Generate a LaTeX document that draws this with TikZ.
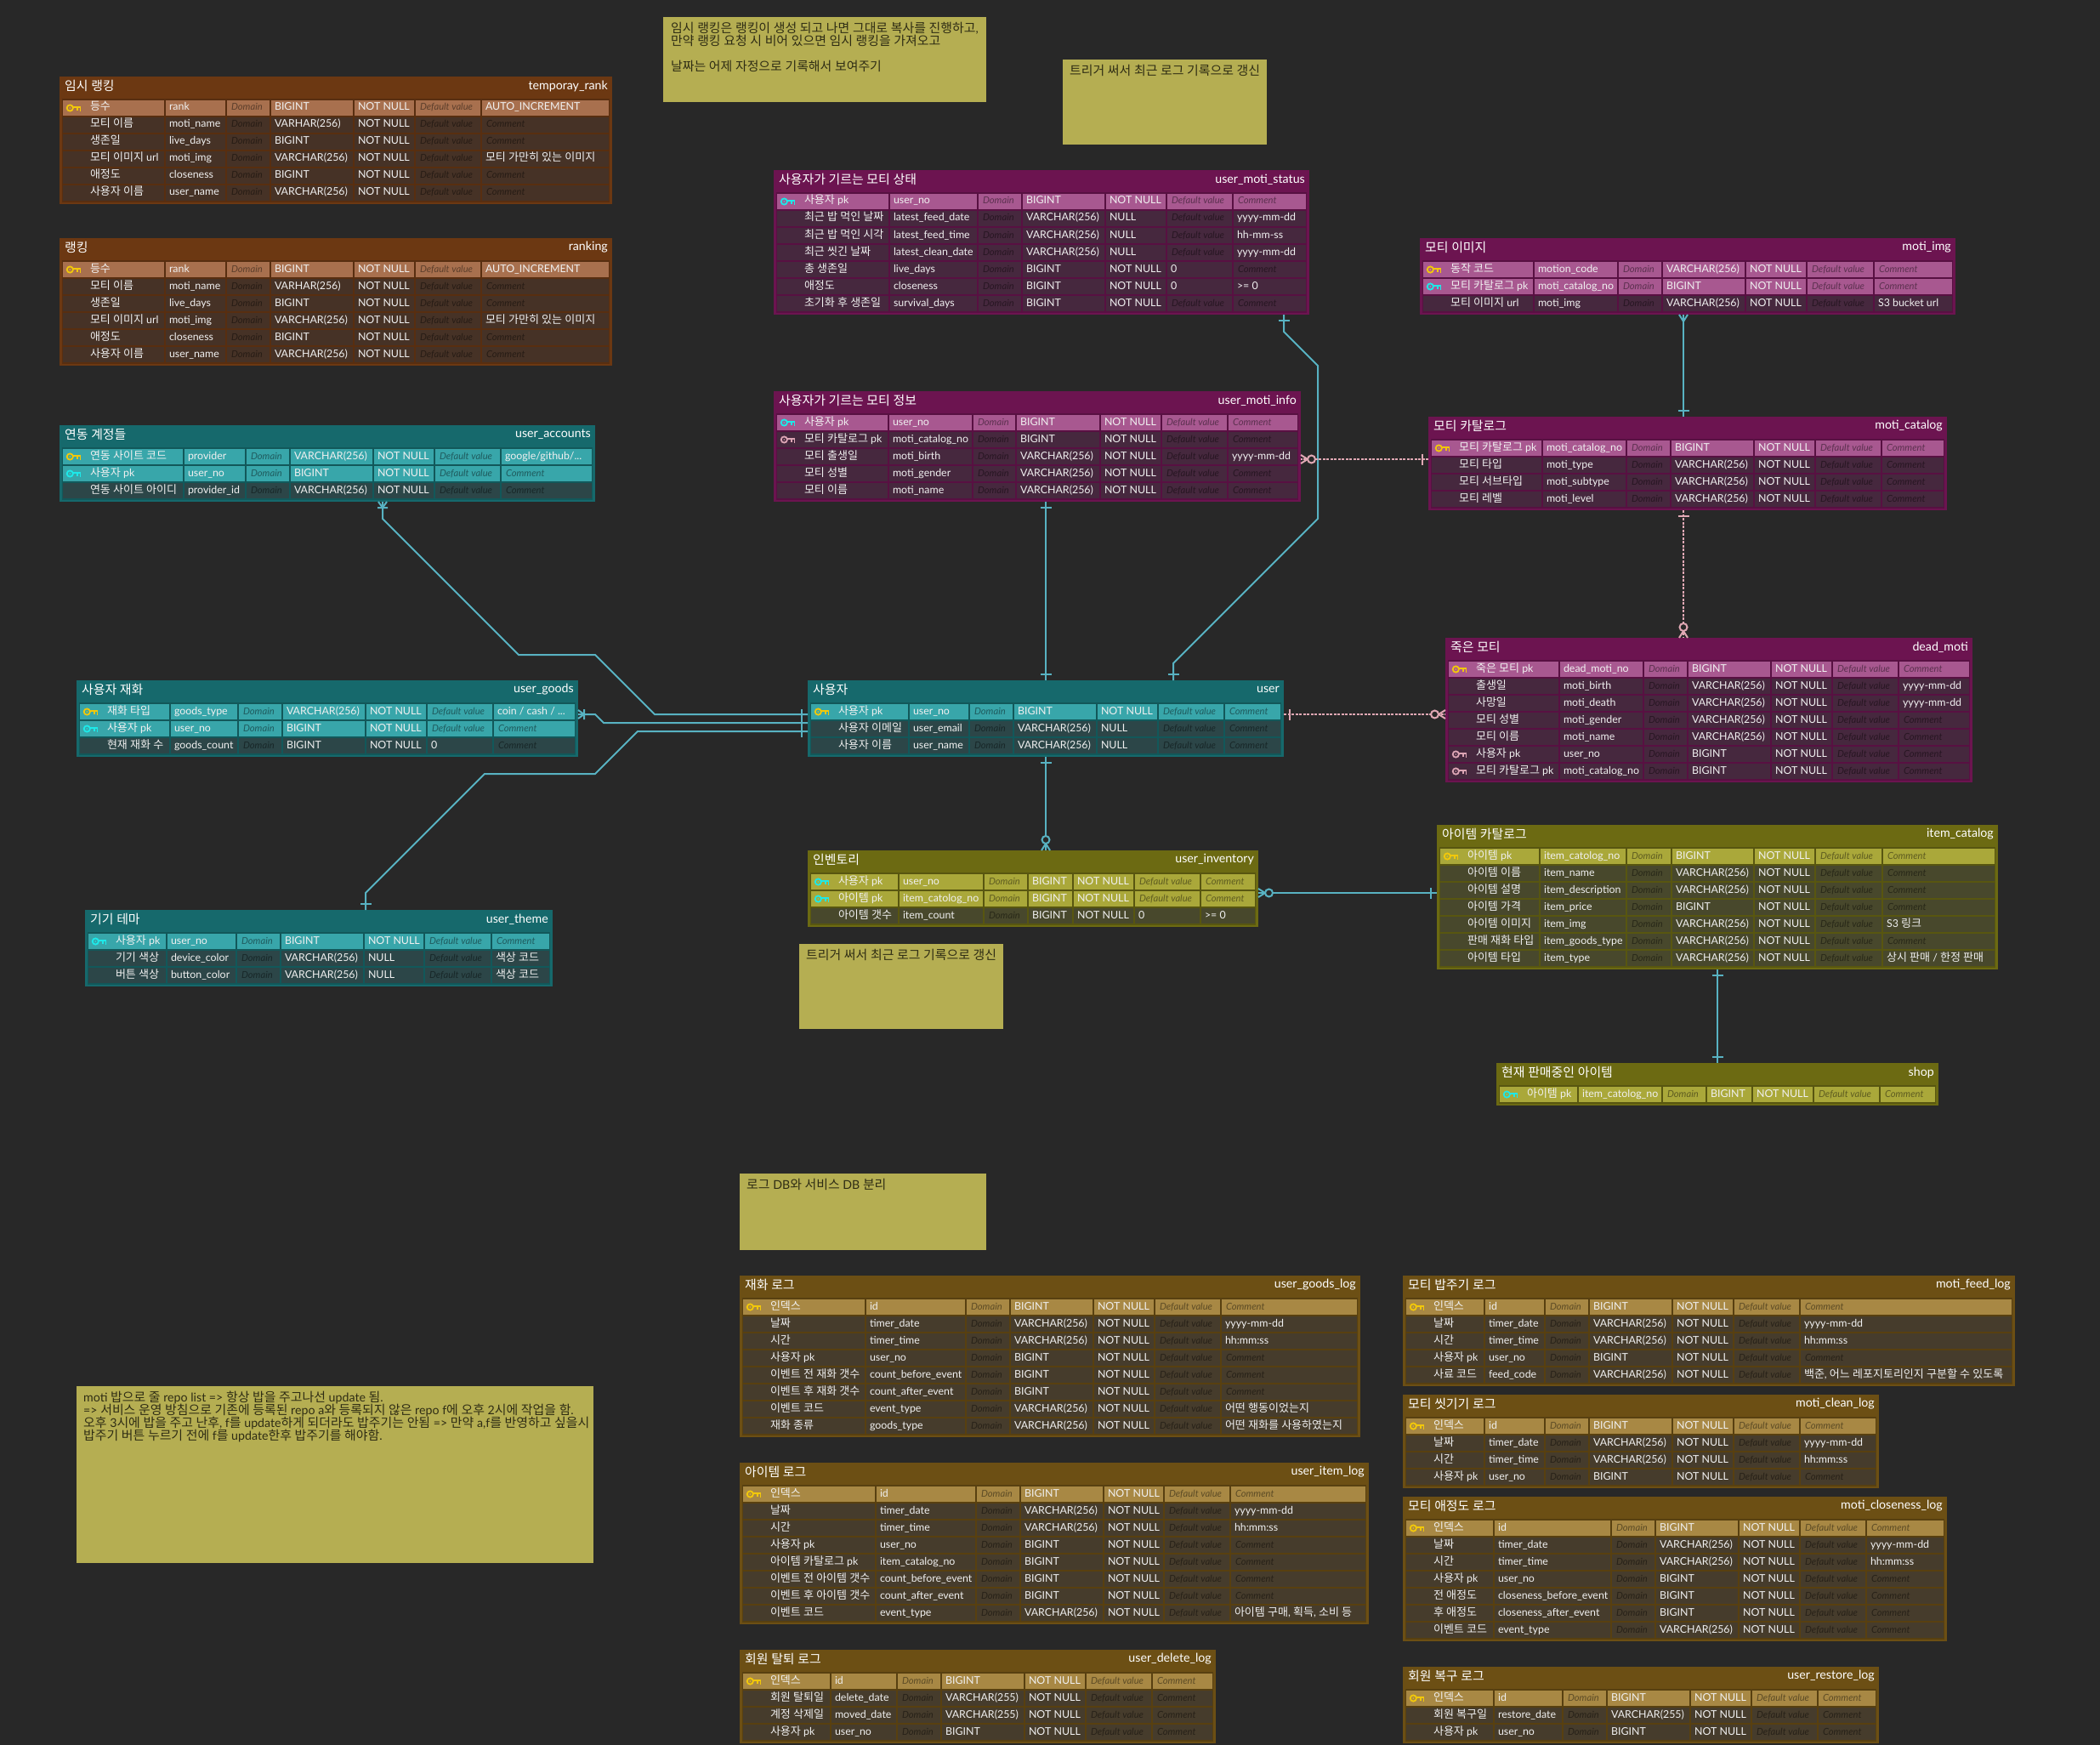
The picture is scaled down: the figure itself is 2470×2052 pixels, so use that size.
\documentclass[tikz,border=0pt]{standalone}
\usepackage{fontspec}
\setmainfont{Lato}
\newfontfamily\krfont[Scale=1.05]{Noto Sans CJK KR}
\usetikzlibrary{decorations.markings}
\catcode`\_=12

\XeTeXinterchartokenstate=1
\newXeTeXintercharclass\krclass
\count255="AC00
\loop\XeTeXcharclass\count255=\krclass\ifnum\count255<"D7A3 \advance\count255 by 1 \repeat
\XeTeXinterchartoks 0 \krclass = {\begingroup\krfont}
\XeTeXinterchartoks 4095 \krclass = {\begingroup\krfont}
\XeTeXinterchartoks \krclass 0 = {\endgroup}
\XeTeXinterchartoks \krclass 4095 = {\endgroup}

\definecolor{bgdark}{HTML}{282828}
\definecolor{notefill}{HTML}{B5AE52}
\definecolor{notetxt}{HTML}{2E2C14}
\definecolor{relteal}{HTML}{58B2C2}
\definecolor{relpink}{HTML}{E0A8B4}
\definecolor{keygold}{HTML}{F2C80A}
\definecolor{keycyan}{HTML}{1DE9E9}
\definecolor{keypale}{HTML}{DCA4B4}

\definecolor{brownhead}{HTML}{6C3812}
\definecolor{browngap}{HTML}{582E10}
\definecolor{brownhi}{HTML}{A8704E}
\definecolor{brownrow}{HTML}{463226}
\definecolor{plumhead}{HTML}{6C1450}
\definecolor{plumgap}{HTML}{581042}
\definecolor{plumhi}{HTML}{A85890}
\definecolor{plumrow}{HTML}{46283E}
\definecolor{tealhead}{HTML}{16696C}
\definecolor{tealgap}{HTML}{12585A}
\definecolor{tealhi}{HTML}{38A6AA}
\definecolor{tealrow}{HTML}{2C4648}
\definecolor{olivehead}{HTML}{6C6A12}
\definecolor{olivegap}{HTML}{585610}
\definecolor{olivehi}{HTML}{AAA83A}
\definecolor{oliverow}{HTML}{48482C}
\definecolor{goldhead}{HTML}{6C4F14}
\definecolor{goldgap}{HTML}{584010}
\definecolor{goldhi}{HTML}{A88844}
\definecolor{goldrow}{HTML}{463C2C}

\tikzset{
  tablebox/.style={anchor=north west, inner sep=0pt, outer sep=0pt},
  titletext/.style={inner sep=0pt, text=white, font=\fontsize{14.2}{17}\selectfont},
  cell/.style={anchor=north west, inner sep=0pt, outer sep=0pt, minimum height=18pt,
    text height=10pt, text depth=4pt, fill=cellfill, text=white!94!black,
    font=\fontsize{12.4}{15}\selectfont},
  notebox/.style={anchor=north west, inner sep=0pt, outer sep=0pt, fill=notefill},
  notetext/.style={anchor=north west, inner sep=0pt, align=left, text=notetxt,
    font=\fontsize{14.2}{15}\selectfont},
  keyicon/.pic={
    \draw[keycol, line width=1.8pt] (-4.2,0) circle (3.6);
    \fill[keycol] (-4.2,0) circle (0.9);
    \draw[keycol, line width=1.8pt] (-0.6,-0.8) -- (8,-0.8) -- (8,4) (4.4,-0.8) -- (4.4,3);
  },
  rel/.style={color=relteal, line width=2pt},
  reldash/.style={color=relpink, line width=2pt, dash pattern=on 3pt off 1.5pt},
  tickstart/.style={postaction={decorate, decoration={markings,
    mark=at position 7pt with {\draw[solid] (0pt,-6.5pt) -- (0pt,6.5pt);}}}},
  tickend/.style={postaction={decorate, decoration={markings,
    mark=at position -7pt with {\draw[solid] (0pt,-6.5pt) -- (0pt,6.5pt);}}}},
  manystart/.style={postaction={decorate, decoration={markings,
    mark=at position 8pt with {\draw[solid] (-8pt,-5pt) -- (0pt,0pt) -- (-8pt,5pt);}}}},
  manytick/.style={postaction={decorate, decoration={markings,
    mark=at position 7pt with {\draw[solid] (-7pt,-5pt) -- (0pt,0pt) -- (-7pt,5pt) (0pt,-6pt) -- (0pt,6pt);}}}},
  zeroend/.style={postaction={decorate, decoration={markings,
    mark=at position -8pt with {\draw[solid] (8pt,-5pt) -- (0pt,0pt) -- (8pt,5pt);
      \draw[solid, fill=bgdark] (-4.5pt,0pt) circle (4.5pt);}}}},
  zerostart/.style={postaction={decorate, decoration={markings,
    mark=at position 8pt with {\draw[solid] (-8pt,-5pt) -- (0pt,0pt) -- (-8pt,5pt);
      \draw[solid, fill=bgdark] (4.5pt,0pt) circle (4.5pt);}}}},
}

\newcommand{\dimtext}[1]{\textcolor{dimcol}{\itshape\fontsize{11.2}{13}\selectfont\hskip1pt #1}}
\newcommand{\dfv}{\dimtext{Default value}}
\newcommand{\cmv}{\dimtext{Comment}}
\newcommand{\coinlist}{coin / cash / ...}
\newcommand{\gitlist}{google/github/...}
\def\kk{k}\def\kp{p}\def\kf{f}

\newcommand{\erdcols}[8]{\def\cKr{#1}\def\cEn{#2}\def\cDom{#3}\def\cTyp{#4}\def\cNul{#5}\def\cDfl{#6}\def\cCmt{#7}\def\cEnd{#8}}

\newcommand{\erdcell}[5]{%
  \pgfmathsetmacro{\cw}{#3-#2-2}%
  \node[cell] (#1) at (#2,#4) {\hbox to \cw pt{\hskip4pt #5\hss}};%
}

\newcommand{\erdtable}[8]{%
  \pgfmathsetmacro{\tblw}{\cEnd+4-#2}
  \pgfmathsetmacro{\tblh}{30+20*#4}
  \pgfmathsetmacro{\bodyh}{2+20*#4}
  \node[tablebox, fill=#7head, minimum width=\tblw pt, minimum height=\tblh pt] (#1) at (#2,#3) {};
  \node[titletext, anchor=west] (#1-title) at (#2+6,#3+11) {#5};
  \node[titletext, anchor=east] (#1-code) at (\cEnd-1,#3+11) {#6};
  \node[tablebox, fill=#7gap, minimum width=\tblw pt-6pt, minimum height=\bodyh pt] (#1-body) at (#2+3,#3+26) {};
  \foreach \key/\kr/\en/\typ/\nul/\dfl/\cmt [count=\rw from 0] in {#8} {
    \pgfmathsetmacro{\ry}{#3+28+20*\rw}
    \colorlet{cellfill}{#7row}\colorlet{dimcol}{#7row!55!black}
    \ifx\key\kk \colorlet{cellfill}{#7hi}\colorlet{dimcol}{#7hi!55!black}\colorlet{keycol}{keygold}\fi
    \ifx\key\kp \colorlet{cellfill}{#7hi}\colorlet{dimcol}{#7hi!55!black}\colorlet{keycol}{keycyan}\fi
    \ifx\key\kf \colorlet{keycol}{keypale}\fi
    \erdcell{#1-\rw-key}{#2+4}{\cKr}{\ry}{}
    \erdcell{#1-\rw-kr}{\cKr}{\cEn}{\ry}{\kr}
    \erdcell{#1-\rw-en}{\cEn}{\cDom}{\ry}{\en}
    \erdcell{#1-\rw-dom}{\cDom}{\cTyp}{\ry}{\dimtext{Domain}}
    \erdcell{#1-\rw-typ}{\cTyp}{\cNul}{\ry}{\typ}
    \erdcell{#1-\rw-nul}{\cNul}{\cDfl}{\ry}{\nul}
    \erdcell{#1-\rw-dfl}{\cDfl}{\cCmt}{\ry}{\dfl}
    \erdcell{#1-\rw-cmt}{\cCmt}{\cEnd+2}{\ry}{\cmt}
    \ifx\key\kk \pic at (#2+16.5,\ry+9) {keyicon};\fi
    \ifx\key\kp \pic at (#2+16.5,\ry+9) {keyicon};\fi
    \ifx\key\kf \pic at (#2+16.5,\ry+9) {keyicon};\fi
  }
}

\begin{document}
\begin{tikzpicture}[x=1pt, y=-1pt]
  \fill[bgdark] (0,0) rectangle (2470,2052);

  \node[notebox, minimum width=380pt, minimum height=100pt] (noterank) at (780,20) {};
  \node[notetext] (noterank-text) at (789,26) {임시 랭킹은 랭킹이 생성 되고 나면 그대로 복사를 진행하고,\\만약 랭킹 요청 시 비어 있으면 임시 랭킹을 가져오고\\\\날짜는 어제 자정으로 기록해서 보여주기};
  \node[notebox, minimum width=240pt, minimum height=100pt] (notetrigger) at (1250,70) {};
  \node[notetext] (notetrigger-text) at (1258,76) {트리거 써서 최근 로그 기록으로 갱신};
  \node[notebox, minimum width=240pt, minimum height=100pt] (noteinven) at (940,1110) {};
  \node[notetext] (noteinven-text) at (948,1116) {트리거 써서 최근 로그 기록으로 갱신};
  \node[notebox, minimum width=290pt, minimum height=90pt] (notelog) at (870,1380) {};
  \node[notetext] (notelog-text) at (878,1386) {로그 DB와 서비스 DB 분리};
  \node[notebox, minimum width=608pt, minimum height=208pt] (notefeed) at (90,1630) {};
  \node[notetext] (notefeed-text) at (98,1636) {moti 밥으로 줄 repo list => 항상 밥을 주고나선 update 됨.\\=> 서비스 운영 방침으로 기존에 등록된 repo a와 등록되지 않은 repo f에 오후 2시에 작업을 함.\\오후 3시에 밥을 주고 난후, f를 update하게 되더라도 밥주기는 안됨 => 만약 a,f를 반영하고 싶을시\\밥주기 버튼 누르기 전에 f를 update한후 밥주기를 해야함.};

  \erdcols{102}{195}{267}{319}{417}{489}{567}{716}
  \erdtable{temprank}{70}{90}{6}{임시 랭킹}{temporay_rank}{brown}{
    k/등수/rank/BIGINT/NOT NULL/\dfv/AUTO_INCREMENT,
    n/모티 이름/moti_name/VARHAR(256)/NOT NULL/\dfv/\cmv,
    n/생존일/live_days/BIGINT/NOT NULL/\dfv/\cmv,
    n/모티 이미지 url/moti_img/VARCHAR(256)/NOT NULL/\dfv/모티 가만히 있는 이미지,
    n/애정도/closeness/BIGINT/NOT NULL/\dfv/\cmv,
    n/사용자 이름/user_name/VARCHAR(256)/NOT NULL/\dfv/\cmv}
  \erdtable{ranking}{70}{280}{6}{랭킹}{ranking}{brown}{
    k/등수/rank/BIGINT/NOT NULL/\dfv/AUTO_INCREMENT,
    n/모티 이름/moti_name/VARHAR(256)/NOT NULL/\dfv/\cmv,
    n/생존일/live_days/BIGINT/NOT NULL/\dfv/\cmv,
    n/모티 이미지 url/moti_img/VARCHAR(256)/NOT NULL/\dfv/모티 가만히 있는 이미지,
    n/애정도/closeness/BIGINT/NOT NULL/\dfv/\cmv,
    n/사용자 이름/user_name/VARCHAR(256)/NOT NULL/\dfv/\cmv}

  \erdcols{942}{1047}{1151}{1203}{1301}{1373}{1451}{1536}
  \erdtable{status}{910}{200}{7}{사용자가 기르는 모티 상태}{user_moti_status}{plum}{
    p/사용자 pk/user_no/BIGINT/NOT NULL/\dfv/\cmv,
    n/최근 밥 먹인 날짜/latest_feed_date/VARCHAR(256)/NULL/\dfv/yyyy-mm-dd,
    n/최근 밥 먹인 시각/latest_feed_time/VARCHAR(256)/NULL/\dfv/hh-mm-ss,
    n/최근 씻긴 날짜/latest_clean_date/VARCHAR(256)/NULL/\dfv/yyyy-mm-dd,
    n/총 생존일/live_days/BIGINT/NOT NULL/0/\cmv,
    n/애정도/closeness/BIGINT/NOT NULL/0/>= 0,
    n/초기화 후 생존일/survival_days/BIGINT/NOT NULL/\dfv/\cmv}
  \erdcols{942}{1046}{1145}{1196}{1295}{1367}{1445}{1526}
  \erdtable{userinfo}{910}{460}{5}{사용자가 기르는 모티 정보}{user_moti_info}{plum}{
    p/사용자 pk/user_no/BIGINT/NOT NULL/\dfv/\cmv,
    f/모티 카탈로그 pk/moti_catalog_no/BIGINT/NOT NULL/\dfv/\cmv,
    n/모티 출생일/moti_birth/VARCHAR(256)/NOT NULL/\dfv/yyyy-mm-dd,
    n/모티 성별/moti_gender/VARCHAR(256)/NOT NULL/\dfv/\cmv,
    n/모티 이름/moti_name/VARCHAR(256)/NOT NULL/\dfv/\cmv}
  \erdcols{1702}{1805}{1904}{1956}{2054}{2126}{2205}{2296}
  \erdtable{motiimg}{1670}{280}{3}{모티 이미지}{moti_img}{plum}{
    k/동작 코드/motion_code/VARCHAR(256)/NOT NULL/\dfv/\cmv,
    p/모티 카탈로그 pk/moti_catalog_no/BIGINT/NOT NULL/\dfv/\cmv,
    n/모티 이미지 url/moti_img/VARCHAR(256)/NOT NULL/\dfv/S3 bucket url}
  \erdcols{1712}{1815}{1914}{1966}{2064}{2136}{2214}{2286}
  \erdtable{moticat}{1680}{490}{4}{모티 카탈로그}{moti_catalog}{plum}{
    k/모티 카탈로그 pk/moti_catalog_no/BIGINT/NOT NULL/\dfv/\cmv,
    n/모티 타입/moti_type/VARCHAR(256)/NOT NULL/\dfv/\cmv,
    n/모티 서브타입/moti_subtype/VARCHAR(256)/NOT NULL/\dfv/\cmv,
    n/모티 레벨/moti_level/VARCHAR(256)/NOT NULL/\dfv/\cmv}
  \erdcols{1732}{1835}{1934}{1986}{2084}{2156}{2234}{2316}
  \erdtable{deadmoti}{1700}{750}{7}{죽은 모티}{dead_moti}{plum}{
    k/죽은 모티 pk/dead_moti_no/BIGINT/NOT NULL/\dfv/\cmv,
    n/출생일/moti_birth/VARCHAR(256)/NOT NULL/\dfv/yyyy-mm-dd,
    n/사망일/moti_death/VARCHAR(256)/NOT NULL/\dfv/yyyy-mm-dd,
    n/모티 성별/moti_gender/VARCHAR(256)/NOT NULL/\dfv/\cmv,
    n/모티 이름/moti_name/VARCHAR(256)/NOT NULL/\dfv/\cmv,
    f/사용자 pk/user_no/BIGINT/NOT NULL/\dfv/\cmv,
    f/모티 카탈로그 pk/moti_catalog_no/BIGINT/NOT NULL/\dfv/\cmv}

  \erdcols{102}{217}{290}{342}{440}{512}{590}{696}
  \erdtable{accounts}{70}{500}{3}{연동 계정들}{user_accounts}{teal}{
    k/연동 사이트 코드/provider/VARCHAR(256)/NOT NULL/\dfv/\gitlist,
    p/사용자 pk/user_no/BIGINT/NOT NULL/\dfv/\cmv,
    n/연동 사이트 아이디/provider_id/VARCHAR(256)/NOT NULL/\dfv/\cmv}
  \erdcols{122}{201}{281}{333}{431}{503}{581}{676}
  \erdtable{goods}{90}{800}{3}{사용자 재화}{user_goods}{teal}{
    k/재화 타입/goods_type/VARCHAR(256)/NOT NULL/\dfv/\coinlist,
    p/사용자 pk/user_no/BIGINT/NOT NULL/\dfv/\cmv,
    n/현재 재화 수/goods_count/BIGINT/NOT NULL/0/\cmv}
  \erdcols{132}{197}{279}{331}{429}{500}{579}{646}
  \erdtable{theme}{100}{1070}{3}{기기 테마}{user_theme}{teal}{
    p/사용자 pk/user_no/BIGINT/NOT NULL/\dfv/\cmv,
    n/기기 색상/device_color/VARCHAR(256)/NULL/\dfv/색상 코드,
    n/버튼 색상/button_color/VARCHAR(256)/NULL/\dfv/색상 코드}
  \erdcols{982}{1070}{1141}{1193}{1291}{1363}{1441}{1506}
  \erdtable{user}{950}{800}{3}{사용자}{user}{teal}{
    k/사용자 pk/user_no/BIGINT/NOT NULL/\dfv/\cmv,
    n/사용자 이메일/user_email/VARCHAR(256)/NULL/\dfv/\cmv,
    n/사용자 이름/user_name/VARCHAR(256)/NULL/\dfv/\cmv}

  \erdcols{982}{1058}{1158}{1210}{1263}{1335}{1413}{1476}
  \erdtable{inventory}{950}{1000}{3}{인벤토리}{user_inventory}{olive}{
    p/사용자 pk/user_no/BIGINT/NOT NULL/\dfv/\cmv,
    p/아이템 pk/item_catolog_no/BIGINT/NOT NULL/\dfv/\cmv,
    n/아이템 갯수/item_count/BIGINT/NOT NULL/0/>= 0}
  \erdcols{1722}{1812}{1914}{1967}{2064}{2136}{2215}{2346}
  \erdtable{itemcat}{1690}{970}{7}{아이템 카탈로그}{item_catalog}{olive}{
    k/아이템 pk/item_catolog_no/BIGINT/NOT NULL/\dfv/\cmv,
    n/아이템 이름/item_name/VARCHAR(256)/NOT NULL/\dfv/\cmv,
    n/아이템 설명/item_description/VARCHAR(256)/NOT NULL/\dfv/\cmv,
    n/아이템 가격/item_price/BIGINT/NOT NULL/\dfv/\cmv,
    n/아이템 이미지/item_img/VARCHAR(256)/NOT NULL/\dfv/S3 링크,
    n/판매 재화 타입/item_goods_type/VARCHAR(256)/NOT NULL/\dfv/\cmv,
    n/아이템 타입/item_type/VARCHAR(256)/NOT NULL/\dfv/{상시 판매 / 한정 판매}}
  \erdcols{1792}{1857}{1956}{2008}{2062}{2134}{2212}{2276}
  \erdtable{shop}{1760}{1250}{1}{현재 판매중인 아이템}{shop}{olive}{
    p/아이템 pk/item_catolog_no/BIGINT/NOT NULL/\dfv/\cmv}

  \erdcols{902}{1019}{1137}{1189}{1287}{1359}{1437}{1596}
  \erdtable{goodslog}{870}{1500}{8}{재화 로그}{user_goods_log}{gold}{
    k/인덱스/id/BIGINT/NOT NULL/\dfv/\cmv,
    n/날짜/timer_date/VARCHAR(256)/NOT NULL/\dfv/yyyy-mm-dd,
    n/시간/timer_time/VARCHAR(256)/NOT NULL/\dfv/hh:mm:ss,
    n/사용자 pk/user_no/BIGINT/NOT NULL/\dfv/\cmv,
    n/이벤트 전 재화 갯수/count_before_event/BIGINT/NOT NULL/\dfv/\cmv,
    n/이벤트 후 재화 갯수/count_after_event/BIGINT/NOT NULL/\dfv/\cmv,
    n/이벤트 코드/event_type/VARCHAR(256)/NOT NULL/\dfv/어떤 행동이었는지,
    n/재화 종류/goods_type/VARCHAR(256)/NOT NULL/\dfv/어떤 재화를 사용하였는지}
  \erdcols{902}{1031}{1149}{1201}{1299}{1370}{1448}{1606}
  \erdtable{itemlog}{870}{1720}{8}{아이템 로그}{user_item_log}{gold}{
    k/인덱스/id/BIGINT/NOT NULL/\dfv/\cmv,
    n/날짜/timer_date/VARCHAR(256)/NOT NULL/\dfv/yyyy-mm-dd,
    n/시간/timer_time/VARCHAR(256)/NOT NULL/\dfv/hh:mm:ss,
    n/사용자 pk/user_no/BIGINT/NOT NULL/\dfv/\cmv,
    n/아이템 카탈로그 pk/item_catalog_no/BIGINT/NOT NULL/\dfv/\cmv,
    n/이벤트 전 아이템 갯수/count_before_event/BIGINT/NOT NULL/\dfv/\cmv,
    n/이벤트 후 아이템 갯수/count_after_event/BIGINT/NOT NULL/\dfv/\cmv,
    n/이벤트 코드/event_type/VARCHAR(256)/NOT NULL/\dfv/{아이템 구매, 획득, 소비 등}}
  \erdcols{902}{978}{1056}{1108}{1206}{1278}{1356}{1426}
  \erdtable{deletelog}{870}{1940}{4}{회원 탈퇴 로그}{user_delete_log}{gold}{
    k/인덱스/id/BIGINT/NOT NULL/\dfv/\cmv,
    n/회원 탈퇴일/delete_date/VARCHAR(255)/NOT NULL/\dfv/\cmv,
    n/계정 삭제일/moved_date/VARCHAR(255)/NOT NULL/\dfv/\cmv,
    n/사용자 pk/user_no/BIGINT/NOT NULL/\dfv/\cmv}
  \erdcols{1682}{1747}{1818}{1870}{1968}{2040}{2118}{2366}
  \erdtable{feedlog}{1650}{1500}{5}{모티 밥주기 로그}{moti_feed_log}{gold}{
    k/인덱스/id/BIGINT/NOT NULL/\dfv/\cmv,
    n/날짜/timer_date/VARCHAR(256)/NOT NULL/\dfv/yyyy-mm-dd,
    n/시간/timer_time/VARCHAR(256)/NOT NULL/\dfv/hh:mm:ss,
    n/사용자 pk/user_no/BIGINT/NOT NULL/\dfv/\cmv,
    n/사료 코드/feed_code/VARCHAR(256)/NOT NULL/\dfv/{백준, 어느 레포지토리인지 구분할 수 있도록}}
  \erdcols{1682}{1747}{1818}{1870}{1968}{2040}{2118}{2206}
  \erdtable{cleanlog}{1650}{1640}{4}{모티 씻기기 로그}{moti_clean_log}{gold}{
    k/인덱스/id/BIGINT/NOT NULL/\dfv/\cmv,
    n/날짜/timer_date/VARCHAR(256)/NOT NULL/\dfv/yyyy-mm-dd,
    n/시간/timer_time/VARCHAR(256)/NOT NULL/\dfv/hh:mm:ss,
    n/사용자 pk/user_no/BIGINT/NOT NULL/\dfv/\cmv}
  \erdcols{1682}{1758}{1896}{1948}{2046}{2118}{2196}{2286}
  \erdtable{closelog}{1650}{1760}{7}{모티 애정도 로그}{moti_closeness_log}{gold}{
    k/인덱스/id/BIGINT/NOT NULL/\dfv/\cmv,
    n/날짜/timer_date/VARCHAR(256)/NOT NULL/\dfv/yyyy-mm-dd,
    n/시간/timer_time/VARCHAR(256)/NOT NULL/\dfv/hh:mm:ss,
    n/사용자 pk/user_no/BIGINT/NOT NULL/\dfv/\cmv,
    n/전 애정도/closeness_before_event/BIGINT/NOT NULL/\dfv/\cmv,
    n/후 애정도/closeness_after_event/BIGINT/NOT NULL/\dfv/\cmv,
    n/이벤트 코드/event_type/VARCHAR(256)/NOT NULL/\dfv/\cmv}
  \erdcols{1682}{1758}{1839}{1891}{1989}{2061}{2139}{2206}
  \erdtable{restorelog}{1650}{1960}{3}{회원 복구 로그}{user_restore_log}{gold}{
    k/인덱스/id/BIGINT/NOT NULL/\dfv/\cmv,
    n/회원 복구일/restore_date/VARCHAR(255)/NOT NULL/\dfv/\cmv,
    n/사용자 pk/user_no/BIGINT/NOT NULL/\dfv/\cmv}

  \draw[rel, tickstart, tickend] ([xshift=600pt]status.south west) -- ++(0,20) -- (1550,430) -- (1550,610) -- (1380,780) -- ([xshift=430pt]user.north west);
  \draw[rel, tickstart, tickend] (userinfo.south -| user.north) -- (user.north);
  \draw[rel, manytick, tickend] ([xshift=380pt]accounts.south west) -- ++(0,20) -- (610,770) -- (700,770) -- (770,840) -- ([yshift=-40pt]user.north west);
  \draw[rel, manytick, tickend] ([yshift=-40pt]goods.north east) -- (700,840) -- (710,850) -- ([yshift=-50pt]user.north west);
  \draw[rel, tickstart, tickend] ([xshift=330pt]theme.north west) -- ++(0,-20) -- (570,910) -- (700,910) -- (750,860) -- ([yshift=-60pt]user.north west);
  \draw[rel, tickstart, zeroend] (user.south) -- (inventory.north -| user.south);
  \draw[rel, zerostart, tickend] ([yshift=-50pt]inventory.north east) -- ([yshift=-80pt]itemcat.north west);
  \foreach \from/\to in {itemcat.south/shop.north}
    \draw[rel, tickstart, tickend] (\from) -- (\to);
  \draw[rel, manystart, tickend] ([xshift=310pt]motiimg.south west) -- ([xshift=300pt]moticat.north west);
  \draw[reldash, tickstart, zeroend] ([yshift=-50pt]moticat.north west) -- ([yshift=-80pt]userinfo.north east);
  \draw[reldash, tickstart, zeroend] ([xshift=300pt]moticat.south west) -- ([xshift=280pt]deadmoti.north west);
  \draw[reldash, tickstart, zeroend] ([yshift=-40pt]user.north east) -- ([yshift=-90pt]deadmoti.north west);
\end{tikzpicture}
\end{document}
